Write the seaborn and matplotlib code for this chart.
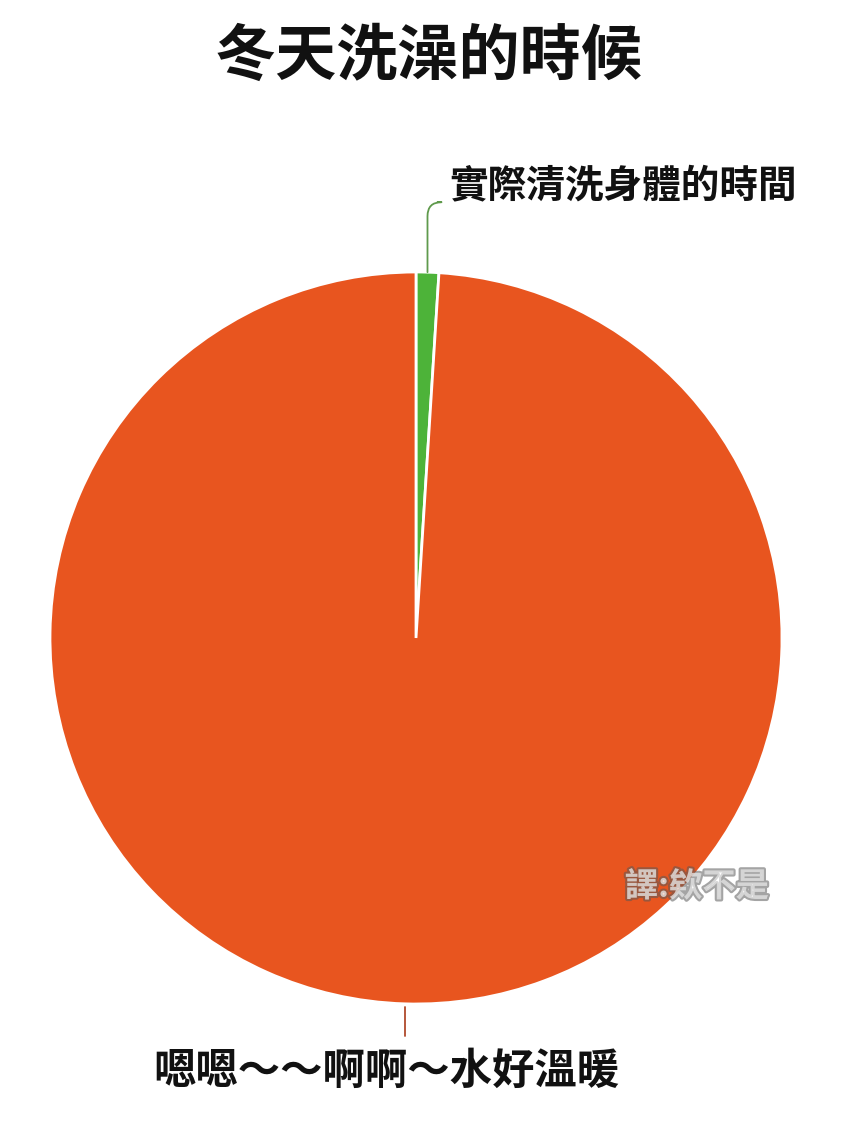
import numpy as np
import matplotlib
matplotlib.use("Agg")
import matplotlib.pyplot as plt
import matplotlib.patheffects as pe
import seaborn as sns

sns.set_theme(style="white")
plt.rcParams['font.family'] = ['Noto Sans CJK TC', 'DejaVu Sans']

TITLE = '冬天洗澡的時候'
labels = ['實際清洗身體的時間', '嗯嗯～～啊啊～水好溫暖']
shares = [1.0, 99.0]
colors = ['#4db339', '#e8551f']
line_colors = ['#5f9a4c', '#b04a2c']
WATERMARK = '譯:欸不是'

W, H = 864, 1128
fig = plt.figure(figsize=(W / 100, H / 100), dpi=100)
ax = fig.add_axes([0, 0, 1, 1])

# pie lives in pixel-like data space (y up)
cx, cy, r = 416, H - 638, 366
wedges, _ = ax.pie(
    shares, colors=colors, startangle=90, counterclock=False,
    center=(cx, cy), radius=r,
    wedgeprops=dict(edgecolor='white', linewidth=2.0),
)
ax.set_xlim(0, W)
ax.set_ylim(0, H)
ax.set_aspect('equal')
ax.axis('off')

# leader lines, anchored on each wedge's mid angle
def edge_point(w):
    ang = np.deg2rad((w.theta1 + w.theta2) / 2)
    return cx + r * np.cos(ang), cy + r * np.sin(ang)

gx, gy = edge_point(wedges[0])
ax.annotate('', xy=(gx, gy), xytext=(gx + 10, gy + 70),
            arrowprops=dict(arrowstyle='-', color=line_colors[0], lw=1.3,
                            connectionstyle='angle,angleA=0,angleB=90,rad=14',
                            shrinkA=0, shrinkB=0))
ax.text(gx + 22, gy + 86, labels[0], ha='left', va='center',
        fontsize=27.8, fontweight='bold', color='#111111')

ox, oy = edge_point(wedges[1])
ax.plot([ox, ox], [oy - 3, oy - 32], color=line_colors[1], lw=1.3)
ax.text(ox - 18, oy - 68, labels[1], ha='center', va='center',
        fontsize=30.5, fontweight='bold', color='#111111')

fig.text(428 / W, 1 - 57 / H, TITLE, ha='center', va='center',
         fontsize=44, fontweight='bold', color='#111111')

fig.text(697 / W, 1 - 887 / H, WATERMARK, ha='center', va='center',
         fontsize=24, fontweight='bold', color=(1, 1, 1, 0.55),
         path_effects=[pe.withStroke(linewidth=3, foreground=(0.35, 0.35, 0.35, 0.55))])

fig.savefig('out.png', dpi=100, facecolor='white')
